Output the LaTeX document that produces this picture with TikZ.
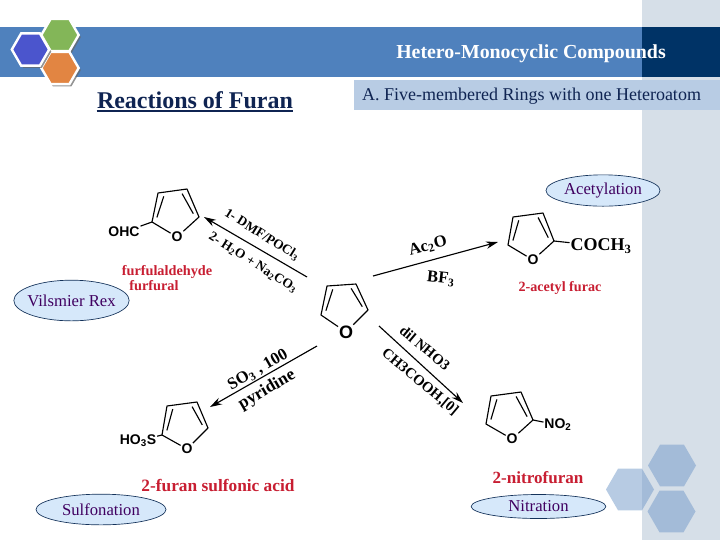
\documentclass[tikz,border=0pt]{standalone}
\usepackage{fontspec}
\setmainfont{Liberation Serif}
\newfontfamily\atomfont{Liberation Sans}
\usetikzlibrary{shapes.geometric,arrows.meta,calc,shadows}
\definecolor{bandblue}{RGB}{79,129,189}
\definecolor{bandnavy}{RGB}{0,51,102}
\definecolor{panelgrey}{RGB}{214,223,232}
\definecolor{subblue}{RGB}{184,204,228}
\definecolor{textnavy}{RGB}{15,36,82}
\definecolor{ovalblue}{RGB}{214,232,250}
\definecolor{ovalline}{RGB}{20,50,90}
\definecolor{ovaltext}{RGB}{64,0,96}
\definecolor{namered}{RGB}{200,30,50}
\definecolor{hexfill}{RGB}{113,153,201}
\definecolor{hexgreen}{RGB}{131,182,88}
\definecolor{hexorange}{RGB}{226,133,66}
\definecolor{hexblue}{RGB}{75,85,205}
\newcommand{\fsize}[1]{\fontsize{#1}{#1}\selectfont}
\tikzset{
    bond/.style={line width=0.85pt,line join=round},
    rxnarrow/.style={line width=0.85pt,-{Stealth[length=9pt,width=5.5pt]}},
    atom/.style={font=\atomfont\bfseries\fsize{10.5},inner sep=0.5pt},
    group/.style={font=\atomfont\bfseries\fsize{10.5},inner sep=0.5pt},
    reagent/.style={font=\bfseries\fsize{#1},inner sep=0pt},
    reagent/.default=11,
    product/.style={font=\bfseries\fsize{#1},text=namered,inner sep=0pt},
    oval/.style={ellipse,draw=ovalline,fill=ovalblue,line width=0.5pt,inner xsep=-6pt,inner ysep=0pt,text=ovaltext,font=\fsize{12.5}},
    logohex/.style={regular polygon,regular polygon sides=6,inner sep=0pt,minimum size=28pt,draw=white,line width=1.8pt,fill=#1,drop shadow={shadow xshift=1.6pt,shadow yshift=-1.6pt,fill=black!60,opacity=0.7}},
    cornerhex/.style={regular polygon,regular polygon sides=6,inner sep=0pt,minimum size=36pt,fill=hexfill,fill opacity=0.5}
}
% name, O, left, top left, top right, right
\newcommand{\furanring}[6]{
    \node[atom] (#1) at (#2) {O};
    \coordinate (#1l) at (#3);
    \coordinate (#1tl) at (#4);
    \coordinate (#1tr) at (#5);
    \coordinate (#1r) at (#6);
    \draw[bond] (#1) -- (#1l) -- (#1tl) -- (#1tr) -- (#1r) -- (#1);
    \draw[bond] ($(#1l)!.14!(#1tr)$) -- ($(#1tl)!.14!(#1r)$);
    \draw[bond] ($(#1tr)!.14!(#1l)$) -- ($(#1r)!.14!(#1tl)$);
}
\begin{document}
\begin{tikzpicture}[x=0.75pt,y=-0.75pt]
    \useasboundingbox (0,0) rectangle (720,540);
    \fill[white] (0,0) rectangle (720,540);
    \fill[panelgrey] (642,0) rectangle (720,540);
    \fill[bandblue] (0,27) rectangle (642,77);
    \fill[bandnavy] (642,27) rectangle (720,77);
    \fill[subblue] (354,80) rectangle (720,110);

    \node[logohex=hexgreen] (greenhex) at (60,35) {};
    \node[logohex=hexorange] (orangehex) at (60,68) {};
    \node[logohex=hexblue] (bluehex) at (30.5,49.5) {};

    \node[cornerhex] (hexleft) at (630,489.5) {};
    \node[cornerhex] (hextop) at (672,465.5) {};
    \node[cornerhex] (hexbottom) at (671.5,511.5) {};

    \node[text=white,font=\bfseries\fsize{14.9},inner sep=0pt] (title) at (531,53.5) {Hetero-Monocyclic Compounds};
    \node[text=textnavy,font=\fsize{13.5},inner sep=0pt] (subtitle) at (531.5,96.5) {A. Five-membered Rings with one Heteroatom};
    \node[text=textnavy,font=\bfseries\fsize{18},inner sep=0pt] (heading) at (195,100) {Reactions of Furan};
    \draw[textnavy,line width=1.1pt] ([yshift=-1.7pt]heading.south west) -- ([yshift=-1.7pt]heading.south east);

    \begin{scope}[atom/.append style={font=\atomfont\bfseries\fsize{13.5}}]
        \furanring{furan}{346,332}{321,315}{327,286}{356,284}{368,310}
    \end{scope}
    \furanring{formyl}{177,237}{152,222}{158,193}{187,189}{199,217}
    \furanring{acetyl}{533,260}{508,245}{513,217}{543,213}{554,241}
    \furanring{sulfo}{187,449}{162,435}{167,406}{197,402}{208,428}
    \furanring{nitro}{512,439}{486,424}{491,396}{521,392}{533,420}

    \node[group] (ohc) at (124,232) {OHC};
    \node[font=\bfseries\fsize{13.5},inner sep=0.5pt] (coch) at (601,246) {COCH\textsubscript{3}};
    \node[group] (hoso) at (138,441) {HO\textsubscript{3}S};
    \node[group] (notwo) at (558,425) {NO\textsubscript{2}};
    \draw[bond] (formyll) -- (ohc);
    \draw[bond] (acetylr) -- (coch);
    \draw[bond] (sulfol) -- (hoso);
    \draw[bond] (nitror) -- (notwo);

    \coordinate (formylfrom) at (307,277);
    \coordinate (formylto) at (204,217);
    \coordinate (acetylfrom) at (373,276);
    \coordinate (acetylto) at (498,242);
    \coordinate (sulfofrom) at (317,346);
    \coordinate (sulfoto) at (210,407);
    \coordinate (nitrofrom) at (379,326);
    \coordinate (nitroto) at (463,403);
    \draw[rxnarrow] (formylfrom) -- (formylto);
    \draw[rxnarrow] (acetylfrom) -- (acetylto);
    \draw[rxnarrow] (sulfofrom) -- (sulfoto);
    \draw[rxnarrow] (nitrofrom) -- (nitroto);

    \node[reagent=10,rotate=-32] (dmf) at (262,235) {1- DMF/POCl\textsubscript{3}};
    \node[reagent=10,rotate=-32] (water) at (253,263) {2- H\textsubscript{2}O + Na\textsubscript{2}CO\textsubscript{3}};
    \node[reagent=12.5,rotate=15] (acoh) at (428,246) {Ac\textsubscript{2}O};
    \node[reagent=12.5,rotate=-6] (bf) at (441,279) {BF\textsubscript{3}};
    \node[reagent=12.5,rotate=30] (sothree) at (258,370) {SO\textsubscript{3} , 100};
    \node[reagent=13,rotate=30] (pyridine) at (267,390) {pyridine};
    \node[reagent=11,rotate=-40] (nitric) at (425,348) {dil NHO3};
    \node[reagent=11,rotate=-40] (acetic) at (420,382) {CH3COOH,[0]};

    \node[product=10.7] (aldehyde) at (167,272.5) {furfulaldehyde};
    \node[product=10.7] (furfural) at (154,286) {furfural};
    \node[product=10.6] (acetylname) at (560,288.5) {2-acetyl furac};
    \node[product=13] (sulfoname) at (218,485) {2-furan sulfonic acid};
    \node[product=12.8] (nitroname) at (538,478) {2-nitrofuran};

    \node[oval,minimum width=86.5pt,minimum height=30.5pt] (vilsmier) at (71.5,300.5) {Vilsmier Rex};
    \node[oval,minimum width=85.5pt,minimum height=23.5pt] (acetylation) at (603,190.5) {Acetylation};
    \node[oval,minimum width=97.5pt,minimum height=23pt] (sulfonation) at (101,509.5) {Sulfonation};
    \node[oval,minimum width=101pt,minimum height=18pt] (nitration) at (538.5,506.5) {Nitration};
\end{tikzpicture}
\end{document}
